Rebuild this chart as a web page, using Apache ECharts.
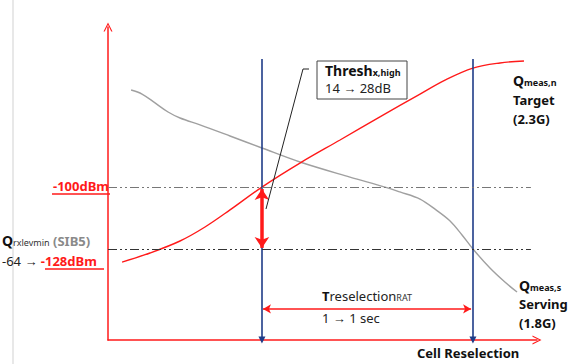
<!DOCTYPE html>
<html><head><meta charset="utf-8">
<script src="https://cdn.jsdelivr.net/npm/echarts@6/dist/echarts.min.js"></script>
<style>html,body{margin:0;padding:0;background:#fff}#c{width:587px;height:364px}</style>
</head><body><div id="c"></div>
<script>
// Axis ranges (x: seconds-like units, y: dBm)
const xRange = [0, 2.043];
const yRange = [-169, -28];
// Target (2.3G) Qmeas,n curve
const targetX = [0.067,0.200,0.343,0.462,0.581,0.733,0.914,1.105,1.295,1.486,1.605,1.738,1.867,1.981];
const targetY = [-133.9,-129.8,-124.4,-118.1,-110.4,-100.1,-89.3,-78.9,-68.5,-58.2,-51.9,-46.5,-44.2,-43.3];
// Serving (1.8G) Qmeas,s curve
const servingX = [0.110,0.162,0.224,0.286,0.343,0.438,0.581,0.733,0.914,1.152,1.319,1.390,1.486,1.562,1.629,1.686,1.738,1.819,1.890,1.948];
const servingY = [-56.4,-58.2,-62.2,-66.3,-69.0,-72.1,-77.1,-82.5,-88.8,-95.6,-100.1,-102.3,-105.5,-110.4,-115.4,-121.7,-128.0,-136.6,-142.9,-147.4];
// Reselection event markers
const eventX = [0.733, 1.738];
const eventTop = -42.4;
// Threshold levels
const levels = [-100, -128];
const levelEndX = 2.014;
// Treselection interval arrow
const treselY = -155;
const treselX = [0.738, 1.729];

const pairs = (xs, ys) => xs.map((x, i) => [x, ys[i]]);
const chart = echarts.init(document.getElementById('c'), null, {renderer: 'svg'});
const RED = '#ff1a1a', NAVY = '#1f3c88', FONT = 'Noto Sans';
const CHEVRON = 'path://M0,10 L5,0 L10,10 L8.6,10 L5,2.6 L1.4,10 Z';

const markData = [];
eventX.forEach(x => markData.push([
  {coord: [x, eventTop], symbol: 'none', lineStyle: {color: NAVY, width: 1.6, type: 'solid'}},
  {coord: [x, yRange[0]], symbol: 'triangle', symbolSize: [7, 7], symbolRotate: 180}
]));
levels.forEach((y, i) => markData.push([
  {coord: [0, y], symbol: 'none', lineStyle: {color: i === 0 ? '#777' : '#333', width: 1, type: [9, 3, 2, 3, 2, 3]}},
  {coord: [levelEndX, y], symbol: 'none'}
]));
markData.push([
  {coord: [eventX[0], levels[0] - 1], symbol: 'arrow', symbolSize: [11, 11], lineStyle: {color: RED, width: 3.5, type: 'solid'}},
  {coord: [eventX[0], levels[1] + 0.5], symbol: 'arrow', symbolSize: [11, 11]}
]);
markData.push([
  {coord: [treselX[0], treselY], symbol: 'arrow', symbolSize: [7, 8], lineStyle: {color: RED, width: 1.5, type: 'solid'}},
  {coord: [treselX[1], treselY], symbol: 'arrow', symbolSize: [7, 8]}
]);

const RICH = {
  q: {fontFamily: FONT, fontSize: 14, fontWeight: 'bold', fill: '#111', lineHeight: 17, verticalAlign: 'bottom'},
  s: {fontFamily: FONT, fontSize: 9, fontWeight: 'bold', fill: '#111', lineHeight: 13, verticalAlign: 'bottom'},
  g: {fontFamily: FONT, fontSize: 13, fontWeight: 'bold', fill: '#8a8a8a', lineHeight: 17, verticalAlign: 'bottom'},
  n: {fontFamily: FONT, fontSize: 13, fill: '#222', lineHeight: 16, verticalAlign: 'bottom'},
  sn: {fontFamily: FONT, fontSize: 9, fill: '#333', lineHeight: 13, verticalAlign: 'bottom'},
  r: {fontFamily: FONT, fontSize: 13, fontWeight: 'bold', fill: RED, lineHeight: 16, verticalAlign: 'bottom'},
  b: {fontFamily: FONT, fontSize: 13, fontWeight: 'bold', fill: '#111', lineHeight: 16},
  bt: {fontFamily: FONT, fontSize: 13, fontWeight: 'bold', fill: '#111', lineHeight: 16, verticalAlign: 'bottom'}
};
const txt = (x, y, text, extra) => Object.assign({
  type: 'text', left: x, top: y, z: 100,
  style: {text: text, rich: RICH, font: '13px ' + FONT, fill: '#222'}
}, extra || {});

chart.setOption({
  animation: false,
  grid: {left: 108, right: 50, top: 27, bottom: 24},
  xAxis: {type: 'value', min: xRange[0], max: xRange[1], splitLine: {show: false}, axisTick: {show: false}, axisLabel: {show: false},
    axisLine: {show: true, onZero: false, symbol: ['none', CHEVRON], symbolSize: [10, 9], lineStyle: {color: RED, width: 1.5}}},
  yAxis: {type: 'value', min: yRange[0], max: yRange[1], splitLine: {show: false}, axisTick: {show: false}, axisLabel: {show: false},
    axisLine: {show: true, onZero: false, symbol: ['none', CHEVRON], symbolSize: [10, 9], lineStyle: {color: RED, width: 1.5}}},
  series: [
    {type: 'line', name: 'Target', data: pairs(targetX, targetY), smooth: 0.35, symbol: 'none', lineStyle: {color: RED, width: 1.4}, z: 3,
      markLine: {silent: true, animation: false, label: {show: false}, data: markData, symbol: 'none'}},
    {type: 'line', name: 'Serving', data: pairs(servingX, servingY), smooth: 0.35, symbol: 'none', lineStyle: {color: '#a0a0a0', width: 1.4}, z: 2}
  ],
  graphic: [
    {type: 'line', shape: {x1: 13, y1: 0, x2: 13, y2: 364}, style: {stroke: '#e8e8e8', lineWidth: 2}, z: 0},
    // callout
    {type: 'polyline', shape: {points: [[309, 69], [303, 69], [266, 209]]}, style: {stroke: '#222', lineWidth: 1, fill: null}, z: 50},
    {type: 'rect', shape: {x: 317, y: 61, width: 90, height: 38}, style: {stroke: '#444', lineWidth: 1, fill: '#fff'}, z: 60},
    txt(325, 63, '{q|Thresh}{s|x,high}'),
    txt(325, 81, '{n|14 → 28dB}'),
    // left labels
    txt(0, 179, '{r|-100dBm}', {left: null, right: 587 - 109}),
    {type: 'line', shape: {x1: 52, y1: 194, x2: 110, y2: 194}, style: {stroke: RED, lineWidth: 1.5}, z: 100},
    txt(2, 233, '{q|Q}{sn|rxlevmin}{n| }{g|(SIB5)}'),
    txt(2, 254, '{n|-64 → }{r|-128dBm}'),
    {type: 'line', shape: {x1: 45, y1: 269, x2: 104, y2: 269}, style: {stroke: RED, lineWidth: 1.5}, z: 100},
    // Treselection
    txt(322, 289, '{bt|T}{n|reselection}{sn|RAT}'),
    txt(322, 311, '{n|1 → 1 sec}'),
    // right labels
    txt(513, 73, '{q|Q}{s|meas,n}'),
    txt(513, 93, '{b|Target}'),
    txt(513, 112, '{b|(2.3G)}'),
    txt(519, 278, '{q|Q}{s|meas,s}'),
    txt(519, 297, '{b|Serving}'),
    txt(519, 316, '{b|(1.8G)}'),
    txt(417, 346, '{b|Cell Reselection}')
  ]
});
</script></body></html>
